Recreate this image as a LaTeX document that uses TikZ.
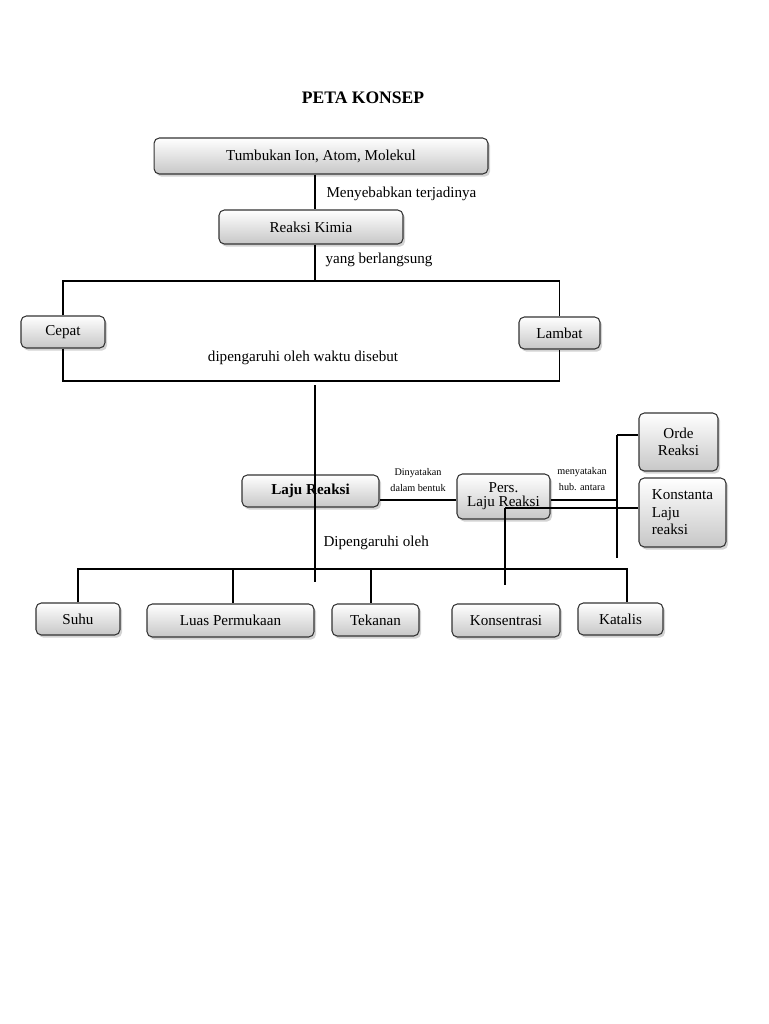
\documentclass[tikz,border=0pt]{standalone}
\usepackage{fontspec}
\setmainfont{Liberation Serif}
\usetikzlibrary{shadows}
\begin{document}
\begin{tikzpicture}[x=0.02cm,y=-0.02cm,line width=0.6pt,font=\fontsize{8.6}{10}\selectfont,
  kotak/.style={draw=black!80,rounded corners=3pt,top color=white,bottom color=black!22,
    drop shadow={shadow xshift=1.2pt,shadow yshift=-1.5pt,opacity=0.35},inner sep=1pt,align=center},
  ket/.style={inner sep=0pt,anchor=west},
  kecil/.style={font=\fontsize{5.8}{9}\selectfont,align=center,inner sep=0pt}]
\useasboundingbox (0,0) rectangle (768,1024);
\node[font=\fontsize{10}{12}\selectfont\bfseries] (judul) at (363,98) {PETA KONSEP};
\node[kotak,minimum width=6.68cm,minimum height=0.72cm] (tumbukan) at (321,156) {Tumbukan Ion, Atom, Molekul};
\node[kotak,minimum width=3.68cm,minimum height=0.68cm] (reaksi) at (311,227) {Reaksi Kimia};
\node[kotak,minimum width=1.68cm,minimum height=0.64cm] (cepat) at (63,332) {Cepat};
\node[kotak,minimum width=1.62cm,minimum height=0.64cm] (lambat) at (559.5,333) {Lambat};
\node[kotak,minimum width=2.74cm,minimum height=0.64cm,font=\fontsize{8.6}{10}\selectfont\bfseries] (laju) at (310.5,491) {Laju Reaksi};
\node[kotak,minimum width=1.86cm,minimum height=0.9cm] (pers) at (503.5,496.5) {Pers.\\[-2pt]Laju Reaksi};
\node[kotak,minimum width=1.58cm,minimum height=1.16cm] (orde) at (678.5,442) {Orde\\Reaksi};
\node[kotak,minimum width=1.74cm,minimum height=1.38cm,align=left] (konstanta) at (682.5,512.5) {Konstanta\\Laju\\reaksi};
\node[kotak,minimum width=1.68cm,minimum height=0.64cm] (suhu) at (78,619) {Suhu};
\node[kotak,minimum width=3.34cm,minimum height=0.66cm] (luas) at (230.5,620.5) {Luas Permukaan};
\node[kotak,minimum width=1.74cm,minimum height=0.64cm] (tekanan) at (375.5,620) {Tekanan};
\node[kotak,minimum width=2.16cm,minimum height=0.66cm] (konsentrasi) at (506,620.5) {Konsentrasi};
\node[kotak,minimum width=1.7cm,minimum height=0.64cm] (katalis) at (620.5,619) {Katalis};
\node[ket] (sebab) at (326,194) {Menyebabkan terjadinya};
\node[ket] (langsung) at (325,260) {yang berlangsung};
\node (waktu) at (303,358) {dipengaruhi oleh waktu disebut};
\node[kecil] (bentuk) at (418,480) {Dinyatakan\\dalam bentuk};
\node[kecil] (hub) at (582,479) {menyatakan\\hub. antara};
\node[ket] (pengaruh) at (323,543) {Dipengaruhi oleh};
\coordinate (cabang) at (315,281);
\coordinate (bawah) at (315,381);
\coordinate (tiang) at (617,435);
\coordinate (simpul) at (505,508);
\coordinate (rel) at (78,569);
\draw (tumbukan.south -| cabang) -- (reaksi.north -| cabang);
\draw (reaksi.south -| cabang) -- (cabang);
\draw (cepat.north) -- (cepat.north |- cabang) -- (lambat.north |- cabang) -- (lambat.north);
\draw (cepat.south) -- (cepat.south |- bawah) -- (lambat.south |- bawah) -- (lambat.south);
\draw (315,385) -- (315,582);
\draw (laju.east |- 0,500) -- (pers.west |- 0,500);
\draw (pers.east |- 0,500) -- (tiang |- 0,500);
\draw (tiang) -- (617,558);
\draw (tiang) -- (orde.west |- tiang);
\draw (simpul) -- (konstanta.west |- simpul);
\draw (simpul) -- (505,585);
\draw (suhu.north) -- (rel) -- (628,569);
\draw (233,569) -- (luas.north -| 233,0);
\draw (371,569) -- (tekanan.north -| 371,0);
\draw (627,569) -- (katalis.north -| 627,0);
\end{tikzpicture}
\end{document}
